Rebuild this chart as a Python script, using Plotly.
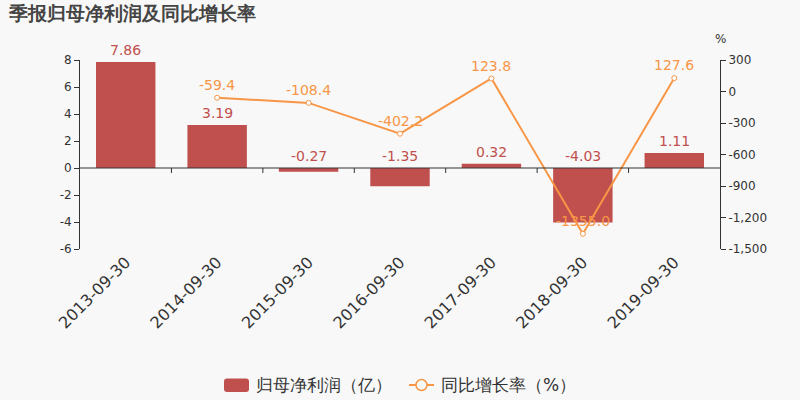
import plotly.graph_objects as go

categories = ["2013-09-30", "2014-09-30", "2015-09-30", "2016-09-30", "2017-09-30", "2018-09-30", "2019-09-30"]
profit = [7.86, 3.19, -0.27, -1.35, 0.32, -4.03, 1.11]
growth = [None, -59.4, -108.4, -402.2, 123.8, -1355.0, 127.6]
left_ticks = [8, 6, 4, 2, 0, -2, -4, -6]
left_ticktext = ["8", "6", "4", "2", "0", "-2", "-4", "-6"]
right_ticks = [300, 0, -300, -600, -900, -1200, -1500]
right_ticktext = ["300", "0", "-300", "-600", "-900", "-1,200", "-1,500"]
series_names = ["归母净利润（亿）", "同比增长率（%）"]

BAR = "#c0504d"
LINE = "#f79646"
TXT = "#333333"
FONT = "DejaVu Sans"
W, H = 800, 400
ML, MR, MT, MB = 80, 80, 60, 151
PW, PH = W - ML - MR, H - MT - MB


def px(x):
    return (x - ML) / PW


def py(y):
    return (H - MB - y) / PH


fig = go.Figure()
fig.add_trace(go.Bar(x=categories, y=profit, name=series_names[0], marker=dict(color=BAR, line=dict(width=0)),
                     width=0.65, yaxis="y", showlegend=False))
fig.add_trace(go.Scatter(x=categories, y=growth, name=series_names[1], mode="lines+markers",
                         line=dict(color=LINE, width=2),
                         marker=dict(symbol="circle", size=5, color="white", line=dict(color=LINE, width=1)),
                         yaxis="y2", showlegend=False))

ann = []
for c, v in zip(categories, profit):
    ann.append(dict(x=c, y=max(v, 0), xref="x", yref="y", text=f"{v:.2f}", showarrow=False,
                    yanchor="bottom", yshift=2, font=dict(color=BAR, size=14, family=FONT)))
for c, v in zip(categories, growth):
    if v is None:
        continue
    ann.append(dict(x=c, y=v, xref="x", yref="y2", text=f"{v:.1f}", showarrow=False,
                    yanchor="bottom", yshift=3, font=dict(color=LINE, size=14, family=FONT)))
ann.append(dict(x=px(6), y=py(13), xref="paper", yref="paper", xanchor="left", yanchor="middle",
                text="<b>季报归母净利润及同比增长率</b>", showarrow=False,
                font=dict(size=19, color="#444444", family=FONT)))
ann.append(dict(x=1, y=1, xref="paper", yref="paper", xanchor="center", yanchor="bottom", yshift=12,
                text="%", showarrow=False, font=dict(size=12, color=TXT, family=FONT)))
# custom legend texts
ann.append(dict(x=px(254), y=py(385), xref="paper", yref="paper", xanchor="left", yanchor="middle",
                text=series_names[0], showarrow=False, font=dict(size=17, color=TXT, family=FONT)))
ann.append(dict(x=px(439), y=py(385), xref="paper", yref="paper", xanchor="left", yanchor="middle",
                text=series_names[1], showarrow=False, font=dict(size=17, color=TXT, family=FONT)))

shapes = [dict(type="line", xref="paper", yref="y", x0=0, x1=1, y0=0, y1=0, line=dict(color=TXT, width=1))]
for i in range(len(categories) - 1):
    shapes.append(dict(type="line", xref="x", yref="y", ysizemode="pixel", yanchor=0,
                       x0=i + 0.5, x1=i + 0.5, y0=0, y1=-5, line=dict(color=TXT, width=1)))
# legend swatches
x0, x1, y0, y1, r = 224, 249, 378.5, 392, 3
path = (f"M {px(x0 + r)},{py(y0)} L {px(x1 - r)},{py(y0)} Q {px(x1)},{py(y0)} {px(x1)},{py(y0 + r)} "
        f"L {px(x1)},{py(y1 - r)} Q {px(x1)},{py(y1)} {px(x1 - r)},{py(y1)} L {px(x0 + r)},{py(y1)} "
        f"Q {px(x0)},{py(y1)} {px(x0)},{py(y1 - r)} L {px(x0)},{py(y0 + r)} Q {px(x0)},{py(y0)} {px(x0 + r)},{py(y0)} Z")
shapes.append(dict(type="path", xref="paper", yref="paper", path=path, fillcolor=BAR, line=dict(width=0)))
shapes.append(dict(type="line", xref="paper", yref="paper", x0=px(409), x1=px(434), y0=py(385), y1=py(385),
                   line=dict(color=LINE, width=2)))
shapes.append(dict(type="circle", xref="paper", yref="paper", x0=px(416), x1=px(427), y0=py(379.5), y1=py(390.5),
                   fillcolor="#f8f8f8", line=dict(color=LINE, width=1.5)))

fig.update_layout(
    width=W, height=H,
    margin=dict(l=ML, r=MR, t=MT, b=MB),
    paper_bgcolor="#f8f8f8", plot_bgcolor="#f8f8f8",
    font=dict(family=FONT, color=TXT),
    showlegend=False,
    xaxis=dict(type="category", showgrid=False, zeroline=False, showline=False, ticks="",
               tickangle=-45, tickfont=dict(size=16, color=TXT, family=FONT), automargin=False),
    yaxis=dict(range=[-6, 8], tickvals=left_ticks, ticktext=left_ticktext, showgrid=False, zeroline=False,
               showline=True, linecolor=TXT, linewidth=1, ticks="outside", ticklen=5, tickcolor=TXT,
               tickfont=dict(size=12, color=TXT, family=FONT), automargin=False),
    yaxis2=dict(range=[-1500, 300], tickvals=right_ticks, ticktext=right_ticktext, overlaying="y", side="right",
                showgrid=False, zeroline=False, showline=True, linecolor=TXT, linewidth=1, ticks="outside",
                ticklen=5, tickcolor=TXT, tickfont=dict(size=12, color=TXT, family=FONT), automargin=False),
    annotations=ann,
    shapes=shapes,
)
fig.write_html("out.html")
